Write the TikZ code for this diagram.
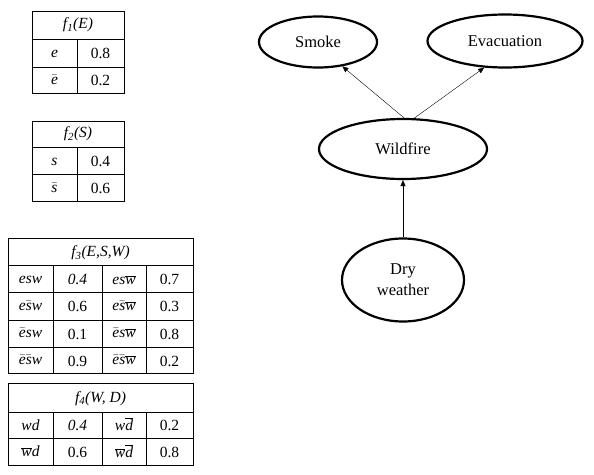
\documentclass[tikz,border=0pt]{standalone}
\usepackage{fontspec}
\setmainfont{Liberation Serif}
\usetikzlibrary{shapes.geometric, arrows.meta}

% italic table letters
\newcommand{\tv}[1]{\textit{#1}}

\begin{document}
\begin{tikzpicture}[
    x = 1pt, y = -1pt,
    >= {Triangle[length=6pt, width=5pt]},
    var/.style={ellipse, draw, line width=2.2pt, inner sep=0pt,
        font=\fontsize{16.5}{21}\selectfont, align=center},
    grid/.style={line width=0.9pt},
    cell/.style={font=\fontsize{15.5}{17}\selectfont, inner sep=0pt}
]
\useasboundingbox (0,0) rectangle (594,474);

% --- Left: factor tables ---
% f1(E)
\draw[grid] (32,11) rectangle (124,93);
\draw[grid] (32,39) -- (124,39);
\draw[grid] (32,67) -- (124,67);
\draw[grid] (77,39) -- (77,93);
\node[cell] (f1h) at (78,25) {\textit{f\textsubscript{1}(E)}};
\node[cell] (f1a) at (54.5,54) {\tv{e}};
\node[cell] (f1b) at (100.5,53) {0.8};
\node[cell] (f1c) at (54.5,80) {$\bar{\tv{e}}$};
\node[cell] (f1d) at (100.5,80) {0.2};

% f2(S)
\draw[grid] (32,121) rectangle (124,201);
\draw[grid] (32,147) -- (124,147);
\draw[grid] (32,174) -- (124,174);
\draw[grid] (77,147) -- (77,201);
\node[cell] (f2h) at (78,134) {\textit{f\textsubscript{2}(S)}};
\node[cell] (f2a) at (54.5,162) {\tv{s}};
\node[cell] (f2b) at (100.5,161) {0.4};
\node[cell] (f2c) at (54.5,188) {$\bar{\tv{s}}$};
\node[cell] (f2d) at (100.5,188) {0.6};

% f3(E,S,W)
\draw[grid] (8,238) rectangle (193,373);
\foreach \y in {265, 292, 320, 347}
    \draw[grid] (8,\y) -- (193,\y);
\foreach \x in {53, 102, 146}
    \draw[grid] (\x,265) -- (\x,373);
\node[cell] (f3h) at (100.5,253) {\textit{f\textsubscript{3}(E,S,W)}};
\node[cell] (f3a) at (30.5,280) {\tv{esw}};
\node[cell] (f3b) at (77.5,279) {\textit{0.4}};
\node[cell] (f3c) at (124,280) {$\tv{es}\overline{\tv{w}}$};
\node[cell] (f3d) at (169.5,279) {0.7};
\node[cell] (f3e) at (30.5,306) {$\tv{e}\bar{\tv{s}}\tv{w}$};
\node[cell] (f3f) at (77.5,306) {0.6};
\node[cell] (f3g) at (124,306) {$\tv{e}\bar{\tv{s}}\overline{\tv{w}}$};
\node[cell] (f3i) at (169.5,306) {0.3};
\node[cell] (f3j) at (30.5,333) {$\bar{\tv{e}}\tv{sw}$};
\node[cell] (f3k) at (77.5,334) {0.1};
\node[cell] (f3l) at (124,333) {$\bar{\tv{e}}\tv{s}\overline{\tv{w}}$};
\node[cell] (f3m) at (169.5,334) {0.8};
\node[cell] (f3n) at (30.5,360) {$\bar{\tv{e}}\bar{\tv{s}}\tv{w}$};
\node[cell] (f3o) at (77.5,361) {0.9};
\node[cell] (f3p) at (124,360) {$\bar{\tv{e}}\bar{\tv{s}}\overline{\tv{w}}$};
\node[cell] (f3q) at (169.5,361) {0.2};

% f4(W, D)
\draw[grid] (8,383) rectangle (193,465);
\draw[grid] (8,412) -- (193,412);
\draw[grid] (8,438) -- (193,438);
\foreach \x in {53, 102, 146}
    \draw[grid] (\x,412) -- (\x,465);
\node[cell] (f4h) at (100.5,399) {\textit{f\textsubscript{4}(W, D)}};
\node[cell] (f4a) at (30.5,425) {\tv{wd}};
\node[cell] (f4b) at (77.5,425) {\textit{0.4}};
\node[cell] (f4c) at (124,424) {$\tv{w}\overline{\tv{d}}$};
\node[cell] (f4d) at (169.5,425) {0.2};
\node[cell] (f4e) at (30.5,451) {$\overline{\tv{w}}\tv{d}$};
\node[cell] (f4f) at (77.5,452) {0.6};
\node[cell] (f4g) at (124,451) {$\overline{\tv{w}}\overline{\tv{d}}$};
\node[cell] (f4i) at (169.5,452) {0.8};

% --- Right: network ---
\node[var, minimum width=118pt, minimum height=51pt] (smoke) at (318,42) {Smoke};
\node[var, minimum width=155pt, minimum height=53pt] (evac) at (505,41) {Evacuation};
\node[var, minimum width=168pt, minimum height=60pt] (wild) at (403,149) {Wildfire};
\node[var, minimum width=122pt, minimum height=83pt] (dry) at (403,280) {Dry\\weather};

% Edges
\draw[->, thin] (wild.88) -- (smoke.-45);
\draw[->, thin] (wild.70) -- (evac.-128);
\draw[->, thin] (dry.north) -- (wild.south);

\end{tikzpicture}
\end{document}
